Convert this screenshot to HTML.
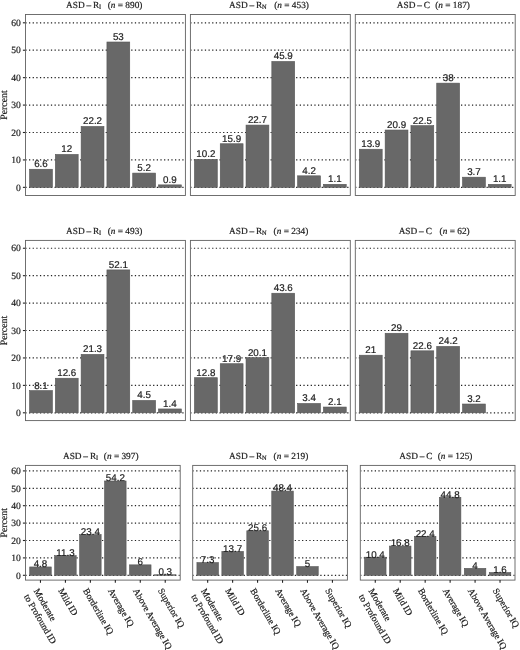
<!DOCTYPE html>
<html lang="en">
<head>
<meta charset="utf-8">
<title>IQ distribution</title>
<style>
html,body{margin:0;padding:0;background:#fff;}
body{width:520px;height:650px;overflow:hidden;}
svg{display:block;}
text{text-rendering:geometricPrecision;}
.xl{word-spacing:-0.4px;}
.s{font-family:"Liberation Serif","Times New Roman",serif;fill:#1a1a1a;stroke:#222;stroke-width:0.2px;}
.h{font-family:"Liberation Sans",Arial,sans-serif;fill:#1a1a1a;stroke:#222;stroke-width:0.2px;}
</style>
</head>
<body>
<svg width="520" height="650" viewBox="0 0 520 650">
<rect width="520" height="650" fill="#ffffff"/>
<text class="s" font-size="9.8" text-anchor="middle" transform="translate(7.2 105.00) rotate(-90)">Percent</text>
<line x1="22.90" y1="187.35" x2="25.50" y2="187.35" stroke="#222" stroke-width="1.1"/>
<text class="s" font-size="9.6" text-anchor="end" x="20.90" y="190.55">0</text>
<line x1="22.90" y1="159.93" x2="25.50" y2="159.93" stroke="#222" stroke-width="1.1"/>
<text class="s" font-size="9.6" text-anchor="end" x="20.90" y="163.12">10</text>
<line x1="22.90" y1="132.50" x2="25.50" y2="132.50" stroke="#222" stroke-width="1.1"/>
<text class="s" font-size="9.6" text-anchor="end" x="20.90" y="135.70">20</text>
<line x1="22.90" y1="105.08" x2="25.50" y2="105.08" stroke="#222" stroke-width="1.1"/>
<text class="s" font-size="9.6" text-anchor="end" x="20.90" y="108.28">30</text>
<line x1="22.90" y1="77.65" x2="25.50" y2="77.65" stroke="#222" stroke-width="1.1"/>
<text class="s" font-size="9.6" text-anchor="end" x="20.90" y="80.85">40</text>
<line x1="22.90" y1="50.22" x2="25.50" y2="50.22" stroke="#222" stroke-width="1.1"/>
<text class="s" font-size="9.6" text-anchor="end" x="20.90" y="53.42">50</text>
<line x1="22.90" y1="22.80" x2="25.50" y2="22.80" stroke="#222" stroke-width="1.1"/>
<text class="s" font-size="9.6" text-anchor="end" x="20.90" y="26.00">60</text>
<line x1="26.00" y1="187.35" x2="184.90" y2="187.35" stroke="#222222" stroke-width="1.2" stroke-dasharray="1.25 2.4" stroke-dashoffset="-3"/>
<line x1="26.00" y1="159.93" x2="184.90" y2="159.93" stroke="#222222" stroke-width="1.2" stroke-dasharray="1.25 2.4" stroke-dashoffset="-3"/>
<line x1="26.00" y1="132.50" x2="184.90" y2="132.50" stroke="#222222" stroke-width="1.2" stroke-dasharray="1.25 2.4" stroke-dashoffset="-3"/>
<line x1="26.00" y1="105.08" x2="184.90" y2="105.08" stroke="#222222" stroke-width="1.2" stroke-dasharray="1.25 2.4" stroke-dashoffset="-3"/>
<line x1="26.00" y1="77.65" x2="184.90" y2="77.65" stroke="#222222" stroke-width="1.2" stroke-dasharray="1.25 2.4" stroke-dashoffset="-3"/>
<line x1="26.00" y1="50.22" x2="184.90" y2="50.22" stroke="#222222" stroke-width="1.2" stroke-dasharray="1.25 2.4" stroke-dashoffset="-3"/>
<line x1="26.00" y1="22.80" x2="184.90" y2="22.80" stroke="#222222" stroke-width="1.2" stroke-dasharray="1.25 2.4" stroke-dashoffset="-3"/>
<rect x="29.56" y="169.25" width="22.82" height="18.10" fill="#686868" stroke="#555555" stroke-width="0.6"/>
<text class="h" font-size="9.8" text-anchor="middle" x="40.97" y="167.25">6.6</text>
<rect x="55.35" y="154.44" width="22.82" height="32.91" fill="#686868" stroke="#555555" stroke-width="0.6"/>
<text class="h" font-size="9.8" text-anchor="middle" x="66.76" y="152.44">12</text>
<rect x="81.14" y="126.47" width="22.82" height="60.88" fill="#686868" stroke="#555555" stroke-width="0.6"/>
<text class="h" font-size="9.8" text-anchor="middle" x="92.55" y="124.47">22.2</text>
<rect x="106.93" y="42.00" width="22.82" height="145.35" fill="#686868" stroke="#555555" stroke-width="0.6"/>
<text class="h" font-size="9.8" text-anchor="middle" x="118.35" y="40.00">53</text>
<rect x="132.72" y="173.09" width="22.82" height="14.26" fill="#686868" stroke="#555555" stroke-width="0.6"/>
<text class="h" font-size="9.8" text-anchor="middle" x="144.14" y="171.09">5.2</text>
<rect x="158.51" y="184.88" width="22.82" height="2.47" fill="#686868" stroke="#555555" stroke-width="0.6"/>
<text class="h" font-size="9.8" text-anchor="middle" x="169.93" y="182.88">0.9</text>
<rect x="25.50" y="14.50" width="159.90" height="181.00" fill="none" stroke="#606060" stroke-width="0.9"/>
<text class="s" font-size="9.3" x="66.05" y="7.70">ASD<tspan dx="1.8">–</tspan><tspan dx="2.0">R</tspan><tspan font-size="6.4" dy="1.5" dx="-0.3">I</tspan><tspan dy="-1.5" x="107.70">(</tspan><tspan font-style="italic">n</tspan> = 890)</text>
<line x1="190.90" y1="187.35" x2="349.80" y2="187.35" stroke="#222222" stroke-width="1.2" stroke-dasharray="1.25 2.4" stroke-dashoffset="-3"/>
<line x1="190.90" y1="159.93" x2="349.80" y2="159.93" stroke="#222222" stroke-width="1.2" stroke-dasharray="1.25 2.4" stroke-dashoffset="-3"/>
<line x1="190.90" y1="132.50" x2="349.80" y2="132.50" stroke="#222222" stroke-width="1.2" stroke-dasharray="1.25 2.4" stroke-dashoffset="-3"/>
<line x1="190.90" y1="105.08" x2="349.80" y2="105.08" stroke="#222222" stroke-width="1.2" stroke-dasharray="1.25 2.4" stroke-dashoffset="-3"/>
<line x1="190.90" y1="77.65" x2="349.80" y2="77.65" stroke="#222222" stroke-width="1.2" stroke-dasharray="1.25 2.4" stroke-dashoffset="-3"/>
<line x1="190.90" y1="50.22" x2="349.80" y2="50.22" stroke="#222222" stroke-width="1.2" stroke-dasharray="1.25 2.4" stroke-dashoffset="-3"/>
<line x1="190.90" y1="22.80" x2="349.80" y2="22.80" stroke="#222222" stroke-width="1.2" stroke-dasharray="1.25 2.4" stroke-dashoffset="-3"/>
<rect x="194.46" y="159.38" width="22.82" height="27.97" fill="#686868" stroke="#555555" stroke-width="0.6"/>
<text class="h" font-size="9.8" text-anchor="middle" x="205.87" y="157.38">10.2</text>
<rect x="220.25" y="143.74" width="22.82" height="43.61" fill="#686868" stroke="#555555" stroke-width="0.6"/>
<text class="h" font-size="9.8" text-anchor="middle" x="231.66" y="141.74">15.9</text>
<rect x="246.04" y="125.10" width="22.82" height="62.25" fill="#686868" stroke="#555555" stroke-width="0.6"/>
<text class="h" font-size="9.8" text-anchor="middle" x="257.45" y="123.10">22.7</text>
<rect x="271.83" y="61.47" width="22.82" height="125.88" fill="#686868" stroke="#555555" stroke-width="0.6"/>
<text class="h" font-size="9.8" text-anchor="middle" x="283.25" y="59.47">45.9</text>
<rect x="297.62" y="175.83" width="22.82" height="11.52" fill="#686868" stroke="#555555" stroke-width="0.6"/>
<text class="h" font-size="9.8" text-anchor="middle" x="309.04" y="173.83">4.2</text>
<rect x="323.41" y="184.33" width="22.82" height="3.02" fill="#686868" stroke="#555555" stroke-width="0.6"/>
<text class="h" font-size="9.8" text-anchor="middle" x="334.83" y="182.33">1.1</text>
<rect x="190.40" y="14.50" width="159.90" height="181.00" fill="none" stroke="#606060" stroke-width="0.9"/>
<text class="s" font-size="9.3" x="229.05" y="7.70">ASD<tspan dx="1.8">–</tspan><tspan dx="2.0">R</tspan><tspan font-size="6.4" dy="1.5" dx="-0.3">N</tspan><tspan dy="-1.5" x="274.20">(</tspan><tspan font-style="italic">n</tspan> = 453)</text>
<line x1="355.80" y1="187.35" x2="514.70" y2="187.35" stroke="#222222" stroke-width="1.2" stroke-dasharray="1.25 2.4" stroke-dashoffset="-3"/>
<line x1="355.80" y1="159.93" x2="514.70" y2="159.93" stroke="#222222" stroke-width="1.2" stroke-dasharray="1.25 2.4" stroke-dashoffset="-3"/>
<line x1="355.80" y1="132.50" x2="514.70" y2="132.50" stroke="#222222" stroke-width="1.2" stroke-dasharray="1.25 2.4" stroke-dashoffset="-3"/>
<line x1="355.80" y1="105.08" x2="514.70" y2="105.08" stroke="#222222" stroke-width="1.2" stroke-dasharray="1.25 2.4" stroke-dashoffset="-3"/>
<line x1="355.80" y1="77.65" x2="514.70" y2="77.65" stroke="#222222" stroke-width="1.2" stroke-dasharray="1.25 2.4" stroke-dashoffset="-3"/>
<line x1="355.80" y1="50.22" x2="514.70" y2="50.22" stroke="#222222" stroke-width="1.2" stroke-dasharray="1.25 2.4" stroke-dashoffset="-3"/>
<line x1="355.80" y1="22.80" x2="514.70" y2="22.80" stroke="#222222" stroke-width="1.2" stroke-dasharray="1.25 2.4" stroke-dashoffset="-3"/>
<rect x="359.36" y="149.23" width="22.82" height="38.12" fill="#686868" stroke="#555555" stroke-width="0.6"/>
<text class="h" font-size="9.8" text-anchor="middle" x="370.77" y="147.23">13.9</text>
<rect x="385.15" y="130.03" width="22.82" height="57.32" fill="#686868" stroke="#555555" stroke-width="0.6"/>
<text class="h" font-size="9.8" text-anchor="middle" x="396.56" y="128.03">20.9</text>
<rect x="410.94" y="125.64" width="22.82" height="61.71" fill="#686868" stroke="#555555" stroke-width="0.6"/>
<text class="h" font-size="9.8" text-anchor="middle" x="422.35" y="123.64">22.5</text>
<rect x="436.73" y="83.14" width="22.82" height="104.21" fill="#686868" stroke="#555555" stroke-width="0.6"/>
<text class="h" font-size="9.8" text-anchor="middle" x="448.15" y="81.14">38</text>
<rect x="462.52" y="177.20" width="22.82" height="10.15" fill="#686868" stroke="#555555" stroke-width="0.6"/>
<text class="h" font-size="9.8" text-anchor="middle" x="473.94" y="175.20">3.7</text>
<rect x="488.31" y="184.33" width="22.82" height="3.02" fill="#686868" stroke="#555555" stroke-width="0.6"/>
<text class="h" font-size="9.8" text-anchor="middle" x="499.73" y="182.33">1.1</text>
<rect x="355.30" y="14.50" width="159.90" height="181.00" fill="none" stroke="#606060" stroke-width="0.9"/>
<text class="s" font-size="9.3" x="396.75" y="7.70">ASD<tspan dx="1.8">–</tspan><tspan dx="2.0">C</tspan><tspan x="435.20">(</tspan><tspan font-style="italic">n</tspan> = 187)</text>
<text class="s" font-size="9.8" text-anchor="middle" transform="translate(7.2 330.50) rotate(-90)">Percent</text>
<line x1="22.90" y1="412.80" x2="25.50" y2="412.80" stroke="#222" stroke-width="1.1"/>
<text class="s" font-size="9.6" text-anchor="end" x="20.90" y="416.00">0</text>
<line x1="22.90" y1="385.38" x2="25.50" y2="385.38" stroke="#222" stroke-width="1.1"/>
<text class="s" font-size="9.6" text-anchor="end" x="20.90" y="388.57">10</text>
<line x1="22.90" y1="357.95" x2="25.50" y2="357.95" stroke="#222" stroke-width="1.1"/>
<text class="s" font-size="9.6" text-anchor="end" x="20.90" y="361.15">20</text>
<line x1="22.90" y1="330.52" x2="25.50" y2="330.52" stroke="#222" stroke-width="1.1"/>
<text class="s" font-size="9.6" text-anchor="end" x="20.90" y="333.72">30</text>
<line x1="22.90" y1="303.10" x2="25.50" y2="303.10" stroke="#222" stroke-width="1.1"/>
<text class="s" font-size="9.6" text-anchor="end" x="20.90" y="306.30">40</text>
<line x1="22.90" y1="275.68" x2="25.50" y2="275.68" stroke="#222" stroke-width="1.1"/>
<text class="s" font-size="9.6" text-anchor="end" x="20.90" y="278.88">50</text>
<line x1="22.90" y1="248.25" x2="25.50" y2="248.25" stroke="#222" stroke-width="1.1"/>
<text class="s" font-size="9.6" text-anchor="end" x="20.90" y="251.45">60</text>
<line x1="26.00" y1="412.80" x2="184.90" y2="412.80" stroke="#222222" stroke-width="1.2" stroke-dasharray="1.25 2.4" stroke-dashoffset="-3"/>
<line x1="26.00" y1="385.38" x2="184.90" y2="385.38" stroke="#222222" stroke-width="1.2" stroke-dasharray="1.25 2.4" stroke-dashoffset="-3"/>
<line x1="26.00" y1="357.95" x2="184.90" y2="357.95" stroke="#222222" stroke-width="1.2" stroke-dasharray="1.25 2.4" stroke-dashoffset="-3"/>
<line x1="26.00" y1="330.52" x2="184.90" y2="330.52" stroke="#222222" stroke-width="1.2" stroke-dasharray="1.25 2.4" stroke-dashoffset="-3"/>
<line x1="26.00" y1="303.10" x2="184.90" y2="303.10" stroke="#222222" stroke-width="1.2" stroke-dasharray="1.25 2.4" stroke-dashoffset="-3"/>
<line x1="26.00" y1="275.68" x2="184.90" y2="275.68" stroke="#222222" stroke-width="1.2" stroke-dasharray="1.25 2.4" stroke-dashoffset="-3"/>
<line x1="26.00" y1="248.25" x2="184.90" y2="248.25" stroke="#222222" stroke-width="1.2" stroke-dasharray="1.25 2.4" stroke-dashoffset="-3"/>
<rect x="29.56" y="390.59" width="22.82" height="22.21" fill="#686868" stroke="#555555" stroke-width="0.6"/>
<text class="h" font-size="9.8" text-anchor="middle" x="40.97" y="388.59">8.1</text>
<rect x="55.35" y="378.24" width="22.82" height="34.56" fill="#686868" stroke="#555555" stroke-width="0.6"/>
<text class="h" font-size="9.8" text-anchor="middle" x="66.76" y="376.24">12.6</text>
<rect x="81.14" y="354.38" width="22.82" height="58.42" fill="#686868" stroke="#555555" stroke-width="0.6"/>
<text class="h" font-size="9.8" text-anchor="middle" x="92.55" y="352.38">21.3</text>
<rect x="106.93" y="269.92" width="22.82" height="142.88" fill="#686868" stroke="#555555" stroke-width="0.6"/>
<text class="h" font-size="9.8" text-anchor="middle" x="118.35" y="267.92">52.1</text>
<rect x="132.72" y="400.46" width="22.82" height="12.34" fill="#686868" stroke="#555555" stroke-width="0.6"/>
<text class="h" font-size="9.8" text-anchor="middle" x="144.14" y="398.46">4.5</text>
<rect x="158.51" y="408.96" width="22.82" height="3.84" fill="#686868" stroke="#555555" stroke-width="0.6"/>
<text class="h" font-size="9.8" text-anchor="middle" x="169.93" y="406.96">1.4</text>
<rect x="25.50" y="240.40" width="159.90" height="180.20" fill="none" stroke="#606060" stroke-width="0.9"/>
<text class="s" font-size="9.3" x="66.05" y="233.60">ASD<tspan dx="1.8">–</tspan><tspan dx="2.0">R</tspan><tspan font-size="6.4" dy="1.5" dx="-0.3">I</tspan><tspan dy="-1.5" x="107.70">(</tspan><tspan font-style="italic">n</tspan> = 493)</text>
<line x1="190.90" y1="412.80" x2="349.80" y2="412.80" stroke="#222222" stroke-width="1.2" stroke-dasharray="1.25 2.4" stroke-dashoffset="-3"/>
<line x1="190.90" y1="385.38" x2="349.80" y2="385.38" stroke="#222222" stroke-width="1.2" stroke-dasharray="1.25 2.4" stroke-dashoffset="-3"/>
<line x1="190.90" y1="357.95" x2="349.80" y2="357.95" stroke="#222222" stroke-width="1.2" stroke-dasharray="1.25 2.4" stroke-dashoffset="-3"/>
<line x1="190.90" y1="330.52" x2="349.80" y2="330.52" stroke="#222222" stroke-width="1.2" stroke-dasharray="1.25 2.4" stroke-dashoffset="-3"/>
<line x1="190.90" y1="303.10" x2="349.80" y2="303.10" stroke="#222222" stroke-width="1.2" stroke-dasharray="1.25 2.4" stroke-dashoffset="-3"/>
<line x1="190.90" y1="275.68" x2="349.80" y2="275.68" stroke="#222222" stroke-width="1.2" stroke-dasharray="1.25 2.4" stroke-dashoffset="-3"/>
<line x1="190.90" y1="248.25" x2="349.80" y2="248.25" stroke="#222222" stroke-width="1.2" stroke-dasharray="1.25 2.4" stroke-dashoffset="-3"/>
<rect x="194.46" y="377.70" width="22.82" height="35.10" fill="#686868" stroke="#555555" stroke-width="0.6"/>
<text class="h" font-size="9.8" text-anchor="middle" x="205.87" y="375.70">12.8</text>
<rect x="220.25" y="363.71" width="22.82" height="49.09" fill="#686868" stroke="#555555" stroke-width="0.6"/>
<text class="h" font-size="9.8" text-anchor="middle" x="231.66" y="361.71">17.9</text>
<rect x="246.04" y="357.68" width="22.82" height="55.12" fill="#686868" stroke="#555555" stroke-width="0.6"/>
<text class="h" font-size="9.8" text-anchor="middle" x="257.45" y="355.68">20.1</text>
<rect x="271.83" y="293.23" width="22.82" height="119.57" fill="#686868" stroke="#555555" stroke-width="0.6"/>
<text class="h" font-size="9.8" text-anchor="middle" x="283.25" y="291.23">43.6</text>
<rect x="297.62" y="403.48" width="22.82" height="9.32" fill="#686868" stroke="#555555" stroke-width="0.6"/>
<text class="h" font-size="9.8" text-anchor="middle" x="309.04" y="401.48">3.4</text>
<rect x="323.41" y="407.04" width="22.82" height="5.76" fill="#686868" stroke="#555555" stroke-width="0.6"/>
<text class="h" font-size="9.8" text-anchor="middle" x="334.83" y="405.04">2.1</text>
<rect x="190.40" y="240.40" width="159.90" height="180.20" fill="none" stroke="#606060" stroke-width="0.9"/>
<text class="s" font-size="9.3" x="229.05" y="233.60">ASD<tspan dx="1.8">–</tspan><tspan dx="2.0">R</tspan><tspan font-size="6.4" dy="1.5" dx="-0.3">N</tspan><tspan dy="-1.5" x="273.60">(</tspan><tspan font-style="italic">n</tspan> = 234)</text>
<line x1="355.80" y1="412.80" x2="514.70" y2="412.80" stroke="#222222" stroke-width="1.2" stroke-dasharray="1.25 2.4" stroke-dashoffset="-3"/>
<line x1="355.80" y1="385.38" x2="514.70" y2="385.38" stroke="#222222" stroke-width="1.2" stroke-dasharray="1.25 2.4" stroke-dashoffset="-3"/>
<line x1="355.80" y1="357.95" x2="514.70" y2="357.95" stroke="#222222" stroke-width="1.2" stroke-dasharray="1.25 2.4" stroke-dashoffset="-3"/>
<line x1="355.80" y1="330.52" x2="514.70" y2="330.52" stroke="#222222" stroke-width="1.2" stroke-dasharray="1.25 2.4" stroke-dashoffset="-3"/>
<line x1="355.80" y1="303.10" x2="514.70" y2="303.10" stroke="#222222" stroke-width="1.2" stroke-dasharray="1.25 2.4" stroke-dashoffset="-3"/>
<line x1="355.80" y1="275.68" x2="514.70" y2="275.68" stroke="#222222" stroke-width="1.2" stroke-dasharray="1.25 2.4" stroke-dashoffset="-3"/>
<line x1="355.80" y1="248.25" x2="514.70" y2="248.25" stroke="#222222" stroke-width="1.2" stroke-dasharray="1.25 2.4" stroke-dashoffset="-3"/>
<rect x="359.36" y="355.21" width="22.82" height="57.59" fill="#686868" stroke="#555555" stroke-width="0.6"/>
<text class="h" font-size="9.8" text-anchor="middle" x="370.77" y="353.21">21</text>
<rect x="385.15" y="333.27" width="22.82" height="79.53" fill="#686868" stroke="#555555" stroke-width="0.6"/>
<text class="h" font-size="9.8" text-anchor="middle" x="396.56" y="331.27">29</text>
<rect x="410.94" y="350.82" width="22.82" height="61.98" fill="#686868" stroke="#555555" stroke-width="0.6"/>
<text class="h" font-size="9.8" text-anchor="middle" x="422.35" y="348.82">22.6</text>
<rect x="436.73" y="346.43" width="22.82" height="66.37" fill="#686868" stroke="#555555" stroke-width="0.6"/>
<text class="h" font-size="9.8" text-anchor="middle" x="448.15" y="344.43">24.2</text>
<rect x="462.52" y="404.02" width="22.82" height="8.78" fill="#686868" stroke="#555555" stroke-width="0.6"/>
<text class="h" font-size="9.8" text-anchor="middle" x="473.94" y="402.02">3.2</text>
<rect x="355.30" y="240.40" width="159.90" height="180.20" fill="none" stroke="#606060" stroke-width="0.9"/>
<text class="s" font-size="9.3" x="398.65" y="233.60">ASD<tspan dx="1.8">–</tspan><tspan dx="2.0">C</tspan><tspan x="439.60">(</tspan><tspan font-style="italic">n</tspan> = 62)</text>
<text class="s" font-size="9.8" text-anchor="middle" transform="translate(7.2 522.75) rotate(-90)">Percent</text>
<line x1="22.90" y1="575.30" x2="25.50" y2="575.30" stroke="#222" stroke-width="1.1"/>
<text class="s" font-size="9.6" text-anchor="end" x="20.90" y="578.50">0</text>
<line x1="22.90" y1="557.90" x2="25.50" y2="557.90" stroke="#222" stroke-width="1.1"/>
<text class="s" font-size="9.6" text-anchor="end" x="20.90" y="561.10">10</text>
<line x1="22.90" y1="540.50" x2="25.50" y2="540.50" stroke="#222" stroke-width="1.1"/>
<text class="s" font-size="9.6" text-anchor="end" x="20.90" y="543.70">20</text>
<line x1="22.90" y1="523.10" x2="25.50" y2="523.10" stroke="#222" stroke-width="1.1"/>
<text class="s" font-size="9.6" text-anchor="end" x="20.90" y="526.30">30</text>
<line x1="22.90" y1="505.70" x2="25.50" y2="505.70" stroke="#222" stroke-width="1.1"/>
<text class="s" font-size="9.6" text-anchor="end" x="20.90" y="508.90">40</text>
<line x1="22.90" y1="488.30" x2="25.50" y2="488.30" stroke="#222" stroke-width="1.1"/>
<text class="s" font-size="9.6" text-anchor="end" x="20.90" y="491.50">50</text>
<line x1="22.90" y1="470.90" x2="25.50" y2="470.90" stroke="#222" stroke-width="1.1"/>
<text class="s" font-size="9.6" text-anchor="end" x="20.90" y="474.10">60</text>
<line x1="26.00" y1="575.30" x2="179.70" y2="575.30" stroke="#222222" stroke-width="1.2" stroke-dasharray="1.25 2.4" stroke-dashoffset="-3"/>
<line x1="26.00" y1="557.90" x2="179.70" y2="557.90" stroke="#222222" stroke-width="1.2" stroke-dasharray="1.25 2.4" stroke-dashoffset="-3"/>
<line x1="26.00" y1="540.50" x2="179.70" y2="540.50" stroke="#222222" stroke-width="1.2" stroke-dasharray="1.25 2.4" stroke-dashoffset="-3"/>
<line x1="26.00" y1="523.10" x2="179.70" y2="523.10" stroke="#222222" stroke-width="1.2" stroke-dasharray="1.25 2.4" stroke-dashoffset="-3"/>
<line x1="26.00" y1="505.70" x2="179.70" y2="505.70" stroke="#222222" stroke-width="1.2" stroke-dasharray="1.25 2.4" stroke-dashoffset="-3"/>
<line x1="26.00" y1="488.30" x2="179.70" y2="488.30" stroke="#222222" stroke-width="1.2" stroke-dasharray="1.25 2.4" stroke-dashoffset="-3"/>
<line x1="26.00" y1="470.90" x2="179.70" y2="470.90" stroke="#222222" stroke-width="1.2" stroke-dasharray="1.25 2.4" stroke-dashoffset="-3"/>
<rect x="29.72" y="566.95" width="21.51" height="8.35" fill="#686868" stroke="#555555" stroke-width="0.6"/>
<text class="h" font-size="9.8" text-anchor="middle" x="40.47" y="567.25">4.8</text>
<rect x="54.67" y="555.64" width="21.51" height="19.66" fill="#686868" stroke="#555555" stroke-width="0.6"/>
<text class="h" font-size="9.8" text-anchor="middle" x="65.42" y="555.94">11.3</text>
<rect x="79.62" y="534.58" width="21.51" height="40.72" fill="#686868" stroke="#555555" stroke-width="0.6"/>
<text class="h" font-size="9.8" text-anchor="middle" x="90.37" y="534.88">23.4</text>
<rect x="104.57" y="480.99" width="21.51" height="94.31" fill="#686868" stroke="#555555" stroke-width="0.6"/>
<text class="h" font-size="9.8" text-anchor="middle" x="115.33" y="481.29">54.2</text>
<rect x="129.52" y="564.86" width="21.51" height="10.44" fill="#686868" stroke="#555555" stroke-width="0.6"/>
<text class="h" font-size="9.8" text-anchor="middle" x="140.28" y="565.16">6</text>
<rect x="154.47" y="574.78" width="21.51" height="0.52" fill="#686868" stroke="#555555" stroke-width="0.6"/>
<text class="h" font-size="9.8" text-anchor="middle" x="165.23" y="575.08">0.3</text>
<rect x="25.50" y="465.40" width="154.70" height="114.70" fill="none" stroke="#606060" stroke-width="0.9"/>
<text class="s" font-size="9.3" x="62.95" y="458.60">ASD<tspan dx="1.8">–</tspan><tspan dx="2.0">R</tspan><tspan font-size="6.4" dy="1.5" dx="-0.3">I</tspan><tspan dy="-1.5" x="103.80">(</tspan><tspan font-style="italic">n</tspan> = 397)</text>
<line x1="40.47" y1="580.10" x2="40.47" y2="582.80" stroke="#222" stroke-width="1.1"/>
<text class="s xl" font-size="9.3" transform="translate(38.97 586.60) rotate(60)"><tspan x="1" y="6.8">Moderate</tspan><tspan x="1" y="18.2">to Profound ID</tspan></text>
<line x1="65.42" y1="580.10" x2="65.42" y2="582.80" stroke="#222" stroke-width="1.1"/>
<text class="s xl" font-size="9.3" transform="translate(63.92 586.60) rotate(60)" x="0.4" y="7.2">Mild ID</text>
<line x1="90.37" y1="580.10" x2="90.37" y2="582.80" stroke="#222" stroke-width="1.1"/>
<text class="s xl" font-size="9.3" transform="translate(88.87 586.60) rotate(60)" x="0.4" y="7.2">Borderline IQ</text>
<line x1="115.33" y1="580.10" x2="115.33" y2="582.80" stroke="#222" stroke-width="1.1"/>
<text class="s xl" font-size="9.3" transform="translate(113.83 586.60) rotate(60)" x="0.4" y="7.2">Average IQ</text>
<line x1="140.28" y1="580.10" x2="140.28" y2="582.80" stroke="#222" stroke-width="1.1"/>
<text class="s xl" font-size="9.3" transform="translate(138.78 586.60) rotate(60)" x="0.4" y="7.2">Above Average IQ</text>
<line x1="165.23" y1="580.10" x2="165.23" y2="582.80" stroke="#222" stroke-width="1.1"/>
<text class="s xl" font-size="9.3" transform="translate(163.73 586.60) rotate(60)" x="0.4" y="7.2">Superior IQ</text>
<line x1="193.20" y1="575.30" x2="346.90" y2="575.30" stroke="#222222" stroke-width="1.2" stroke-dasharray="1.25 2.4" stroke-dashoffset="-3"/>
<line x1="193.20" y1="557.90" x2="346.90" y2="557.90" stroke="#222222" stroke-width="1.2" stroke-dasharray="1.25 2.4" stroke-dashoffset="-3"/>
<line x1="193.20" y1="540.50" x2="346.90" y2="540.50" stroke="#222222" stroke-width="1.2" stroke-dasharray="1.25 2.4" stroke-dashoffset="-3"/>
<line x1="193.20" y1="523.10" x2="346.90" y2="523.10" stroke="#222222" stroke-width="1.2" stroke-dasharray="1.25 2.4" stroke-dashoffset="-3"/>
<line x1="193.20" y1="505.70" x2="346.90" y2="505.70" stroke="#222222" stroke-width="1.2" stroke-dasharray="1.25 2.4" stroke-dashoffset="-3"/>
<line x1="193.20" y1="488.30" x2="346.90" y2="488.30" stroke="#222222" stroke-width="1.2" stroke-dasharray="1.25 2.4" stroke-dashoffset="-3"/>
<line x1="193.20" y1="470.90" x2="346.90" y2="470.90" stroke="#222222" stroke-width="1.2" stroke-dasharray="1.25 2.4" stroke-dashoffset="-3"/>
<rect x="196.92" y="562.60" width="21.51" height="12.70" fill="#686868" stroke="#555555" stroke-width="0.6"/>
<text class="h" font-size="9.8" text-anchor="middle" x="207.67" y="562.90">7.3</text>
<rect x="221.87" y="551.46" width="21.51" height="23.84" fill="#686868" stroke="#555555" stroke-width="0.6"/>
<text class="h" font-size="9.8" text-anchor="middle" x="232.62" y="551.76">13.7</text>
<rect x="246.82" y="530.76" width="21.51" height="44.54" fill="#686868" stroke="#555555" stroke-width="0.6"/>
<text class="h" font-size="9.8" text-anchor="middle" x="257.57" y="531.06">25.6</text>
<rect x="271.77" y="491.08" width="21.51" height="84.22" fill="#686868" stroke="#555555" stroke-width="0.6"/>
<text class="h" font-size="9.8" text-anchor="middle" x="282.53" y="491.38">48.4</text>
<rect x="296.72" y="566.60" width="21.51" height="8.70" fill="#686868" stroke="#555555" stroke-width="0.6"/>
<text class="h" font-size="9.8" text-anchor="middle" x="307.48" y="566.90">5</text>
<rect x="192.70" y="465.40" width="154.70" height="114.70" fill="none" stroke="#606060" stroke-width="0.9"/>
<text class="s" font-size="9.3" x="229.05" y="458.60">ASD<tspan dx="1.8">–</tspan><tspan dx="2.0">R</tspan><tspan font-size="6.4" dy="1.5" dx="-0.3">N</tspan><tspan dy="-1.5" x="273.60">(</tspan><tspan font-style="italic">n</tspan> = 219)</text>
<line x1="207.67" y1="580.10" x2="207.67" y2="582.80" stroke="#222" stroke-width="1.1"/>
<text class="s xl" font-size="9.3" transform="translate(206.17 586.60) rotate(60)"><tspan x="1" y="6.8">Moderate</tspan><tspan x="1" y="18.2">to Profound ID</tspan></text>
<line x1="232.62" y1="580.10" x2="232.62" y2="582.80" stroke="#222" stroke-width="1.1"/>
<text class="s xl" font-size="9.3" transform="translate(231.12 586.60) rotate(60)" x="0.4" y="7.2">Mild ID</text>
<line x1="257.57" y1="580.10" x2="257.57" y2="582.80" stroke="#222" stroke-width="1.1"/>
<text class="s xl" font-size="9.3" transform="translate(256.07 586.60) rotate(60)" x="0.4" y="7.2">Borderline IQ</text>
<line x1="282.53" y1="580.10" x2="282.53" y2="582.80" stroke="#222" stroke-width="1.1"/>
<text class="s xl" font-size="9.3" transform="translate(281.03 586.60) rotate(60)" x="0.4" y="7.2">Average IQ</text>
<line x1="307.48" y1="580.10" x2="307.48" y2="582.80" stroke="#222" stroke-width="1.1"/>
<text class="s xl" font-size="9.3" transform="translate(305.98 586.60) rotate(60)" x="0.4" y="7.2">Above Average IQ</text>
<line x1="332.43" y1="580.10" x2="332.43" y2="582.80" stroke="#222" stroke-width="1.1"/>
<text class="s xl" font-size="9.3" transform="translate(330.93 586.60) rotate(60)" x="0.4" y="7.2">Superior IQ</text>
<line x1="360.80" y1="575.30" x2="514.50" y2="575.30" stroke="#222222" stroke-width="1.2" stroke-dasharray="1.25 2.4" stroke-dashoffset="-3"/>
<line x1="360.80" y1="557.90" x2="514.50" y2="557.90" stroke="#222222" stroke-width="1.2" stroke-dasharray="1.25 2.4" stroke-dashoffset="-3"/>
<line x1="360.80" y1="540.50" x2="514.50" y2="540.50" stroke="#222222" stroke-width="1.2" stroke-dasharray="1.25 2.4" stroke-dashoffset="-3"/>
<line x1="360.80" y1="523.10" x2="514.50" y2="523.10" stroke="#222222" stroke-width="1.2" stroke-dasharray="1.25 2.4" stroke-dashoffset="-3"/>
<line x1="360.80" y1="505.70" x2="514.50" y2="505.70" stroke="#222222" stroke-width="1.2" stroke-dasharray="1.25 2.4" stroke-dashoffset="-3"/>
<line x1="360.80" y1="488.30" x2="514.50" y2="488.30" stroke="#222222" stroke-width="1.2" stroke-dasharray="1.25 2.4" stroke-dashoffset="-3"/>
<line x1="360.80" y1="470.90" x2="514.50" y2="470.90" stroke="#222222" stroke-width="1.2" stroke-dasharray="1.25 2.4" stroke-dashoffset="-3"/>
<rect x="364.52" y="557.20" width="21.51" height="18.10" fill="#686868" stroke="#555555" stroke-width="0.6"/>
<text class="h" font-size="9.8" text-anchor="middle" x="375.27" y="557.50">10.4</text>
<rect x="389.47" y="546.07" width="21.51" height="29.23" fill="#686868" stroke="#555555" stroke-width="0.6"/>
<text class="h" font-size="9.8" text-anchor="middle" x="400.22" y="546.37">16.8</text>
<rect x="414.42" y="536.32" width="21.51" height="38.98" fill="#686868" stroke="#555555" stroke-width="0.6"/>
<text class="h" font-size="9.8" text-anchor="middle" x="425.17" y="536.62">22.4</text>
<rect x="439.37" y="497.35" width="21.51" height="77.95" fill="#686868" stroke="#555555" stroke-width="0.6"/>
<text class="h" font-size="9.8" text-anchor="middle" x="450.13" y="497.65">44.8</text>
<rect x="464.32" y="568.34" width="21.51" height="6.96" fill="#686868" stroke="#555555" stroke-width="0.6"/>
<text class="h" font-size="9.8" text-anchor="middle" x="475.08" y="568.64">4</text>
<rect x="489.27" y="572.52" width="21.51" height="2.78" fill="#686868" stroke="#555555" stroke-width="0.6"/>
<text class="h" font-size="9.8" text-anchor="middle" x="500.03" y="572.82">1.6</text>
<rect x="360.30" y="465.40" width="154.70" height="114.70" fill="none" stroke="#606060" stroke-width="0.9"/>
<text class="s" font-size="9.3" x="399.25" y="458.60">ASD<tspan dx="1.8">–</tspan><tspan dx="2.0">C</tspan><tspan x="437.70">(</tspan><tspan font-style="italic">n</tspan> = 125)</text>
<line x1="375.27" y1="580.10" x2="375.27" y2="582.80" stroke="#222" stroke-width="1.1"/>
<text class="s xl" font-size="9.3" transform="translate(373.77 586.60) rotate(60)"><tspan x="1" y="6.8">Moderate</tspan><tspan x="1" y="18.2">to Profound ID</tspan></text>
<line x1="400.22" y1="580.10" x2="400.22" y2="582.80" stroke="#222" stroke-width="1.1"/>
<text class="s xl" font-size="9.3" transform="translate(398.72 586.60) rotate(60)" x="0.4" y="7.2">Mild ID</text>
<line x1="425.17" y1="580.10" x2="425.17" y2="582.80" stroke="#222" stroke-width="1.1"/>
<text class="s xl" font-size="9.3" transform="translate(423.67 586.60) rotate(60)" x="0.4" y="7.2">Borderline IQ</text>
<line x1="450.13" y1="580.10" x2="450.13" y2="582.80" stroke="#222" stroke-width="1.1"/>
<text class="s xl" font-size="9.3" transform="translate(448.63 586.60) rotate(60)" x="0.4" y="7.2">Average IQ</text>
<line x1="475.08" y1="580.10" x2="475.08" y2="582.80" stroke="#222" stroke-width="1.1"/>
<text class="s xl" font-size="9.3" transform="translate(473.58 586.60) rotate(60)" x="0.4" y="7.2">Above Average IQ</text>
<line x1="500.03" y1="580.10" x2="500.03" y2="582.80" stroke="#222" stroke-width="1.1"/>
<text class="s xl" font-size="9.3" transform="translate(498.53 586.60) rotate(60)" x="0.4" y="7.2">Superior IQ</text>
</svg>
</body>
</html>
